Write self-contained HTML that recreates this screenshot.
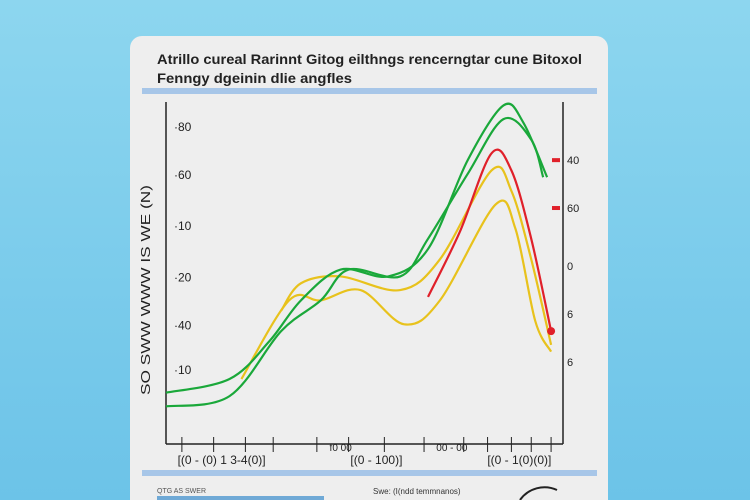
<!DOCTYPE html>
<html><head><meta charset="utf-8"><style>
html,body{margin:0;width:750px;height:500px;overflow:hidden}
body{position:relative;background:linear-gradient(180deg,#8dd6ef,#6cc3e8);font-family:"Liberation Sans",sans-serif}
#card{position:absolute;left:130px;top:36px;width:478px;height:464px;background:#eeeeee;border-radius:12px 12px 0 0}
</style></head><body>
<div id="card"></div>
<svg id="s" width="750" height="500" style="position:absolute;left:0;top:0">
<text x="157" y="64" font-size="14" font-weight="bold" fill="#222" textLength="425" lengthAdjust="spacingAndGlyphs">Atrillo cureal Rarinnt Gitog eilthngs rencerngtar cune Bitoxol</text>
<text x="157" y="83" font-size="14" font-weight="bold" fill="#222" textLength="195" lengthAdjust="spacingAndGlyphs">Fenngy dgeinin dlie angfles</text>
<rect x="142" y="88" width="455" height="6" fill="#a7c6e8"/>
<rect x="142" y="470" width="455" height="6" fill="#a7c6e8"/>
<rect x="157" y="496" width="167" height="6" fill="#6fa9d6"/>
<text x="157" y="493" font-size="7" fill="#555">QTG AS SWER</text>
<text x="373" y="494" font-size="8" fill="#333">Swe: (I(ndd temmnanos)</text>
<path d="M520 500 A30 30 0 0 1 557 490" fill="none" stroke="#222" stroke-width="2"/>
<line x1="166" y1="102" x2="166" y2="444" stroke="#222" stroke-width="1.5"/>
<line x1="563" y1="102" x2="563" y2="444" stroke="#222" stroke-width="1.5"/>
<line x1="166" y1="444" x2="563" y2="444" stroke="#222" stroke-width="1.5"/>
<text transform="translate(150,290) rotate(-90)" font-size="13" fill="#222" text-anchor="middle" textLength="210" lengthAdjust="spacingAndGlyphs">SO SWW WWW IS WE (N)</text>
<g id="g"></g>
</svg>
<script>
const yTickVals=[93,79,64,49,35,22];
const yTickLabels=["80","60","10","20","40","10"];
const rTickVals=[83,69,52,38,24];
const rTickLabels=["40","60","0","6","6"];
const xTickVals=[4,12,20,27,38,46,55,65,75,81,87,92,97];
const xGroupLabels=["[(0 - (0)  1 3-4(0)]","f0   00","[(0 - 100)]","00 - 00","[(0 - 1(0)(0)]"];
const xGroupPos=[14,44,53,72,89];
const g1x=[0,16,26,34,44,56,66,76,85,90,96], g1y=[15,19,30,42,51,49,57,83,99,94,78];
const g2x=[0,16,29,39,46,59,66,76,85,92,95], g2y=[11,14,33,42,51,49,60,79,95,89,78];
const y1x=[29,34,44,59,69,82,87,92,97], y1y=[39,47,49,45,54,80,74,54,29];
const y2x=[19,31,39,49,60,69,83,88,93,97], y2y=[19,42,42,45,35,42,70,63,36,27];
const rx=[66,74,82,87,92,97], ry=[43,62,85,80,60,33];
const X=v=>166+v*3.97, Y=v=>444-v*3.42;
const g=document.getElementById('g'), NS='http://www.w3.org/2000/svg';
function mk(t,a){const e=document.createElementNS(NS,t);for(const k in a)e.setAttribute(k,a[k]);g.appendChild(e);return e;}
function path(xs,ys){let p=xs.map((x,i)=>[X(x),Y(ys[i])]);let d='M'+p[0];for(let i=1;i<p.length;i++){const a=p[Math.max(0,i-2)],b=p[i-1],c=p[i],e=p[Math.min(p.length-1,i+1)];d+=` C${b[0]+(c[0]-a[0])/6},${b[1]+(c[1]-a[1])/6} ${c[0]-(e[0]-b[0])/6},${c[1]-(e[1]-b[1])/6} ${c[0]},${c[1]}`;}return d;}
const series=[[y2x,y2y,'#e8c21c','series-yellow-2'],[y1x,y1y,'#e8c21c','series-yellow-1'],[g2x,g2y,'#1aa83a','series-green-2'],[g1x,g1y,'#1aa83a','series-green-1'],[rx,ry,'#e0202a','series-red']];
series.forEach(s=>{const e=mk('path',{d:path(s[0],s[1]),fill:'none',stroke:s[2],'stroke-width':2.2});

});
const m=mk('circle',{cx:X(rx[rx.length-1]),cy:Y(ry[ry.length-1]),r:4,fill:'#e0202a'});


yTickVals.forEach((v,i)=>{const t=mk('text',{x:174,y:Y(v)+5,'font-size':12,fill:'#222'});t.textContent='·'+yTickLabels[i];

});
rTickVals.forEach((v,i)=>{const t=mk('text',{x:567,y:Y(v)+4,'font-size':11,fill:'#222'});t.textContent=rTickLabels[i];

});
[83,69].forEach(v=>{const r=mk('rect',{x:552,y:Y(v)-2,width:8,height:4,fill:'#e0202a'});

});
xTickVals.forEach(v=>{const l=mk('line',{x1:X(v),x2:X(v),y1:437,y2:452,stroke:'#222','stroke-width':1});

});
xGroupLabels.forEach((s,i)=>{const t=mk('text',{x:X(xGroupPos[i]),y:i%2?451:464,'font-size':i%2?10:12,fill:'#222','text-anchor':'middle'});t.textContent=s;

});
</script>
</body></html>
